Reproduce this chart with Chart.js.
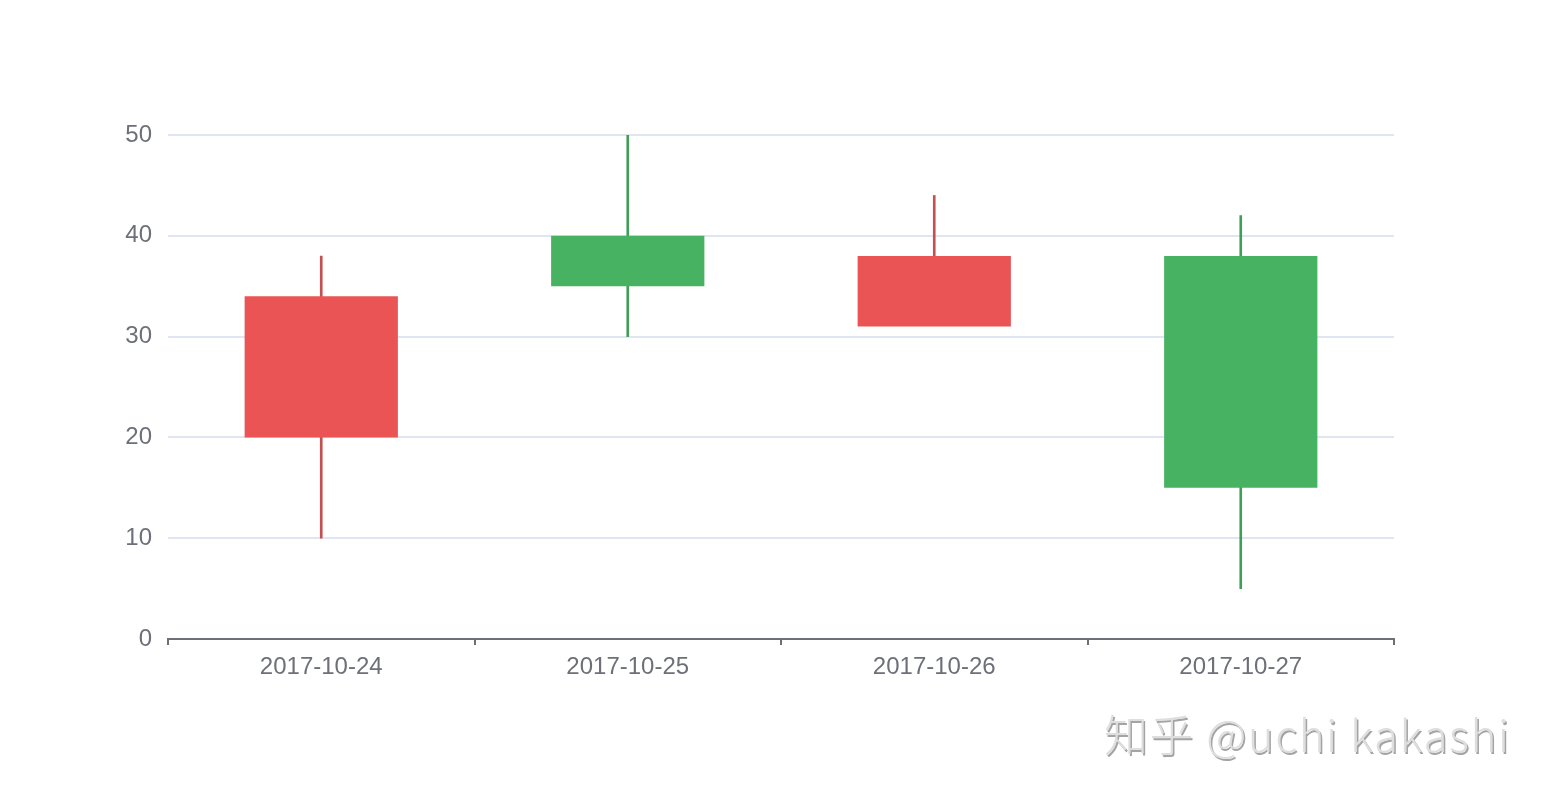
<!DOCTYPE html>
<html>
<head>
<meta charset="utf-8">
<script src="https://cdn.jsdelivr.net/npm/chart.js@4.4.0/dist/chart.umd.min.js"></script>
<style>
  html, body { margin: 0; padding: 0; background: #fff; }
  #wrap { position: relative; width: 1560px; height: 794px; }
  #mark {
    position: absolute; left: 1104px; top: 701px;
    font: 300 44px "Noto Sans CJK SC", "Liberation Sans", sans-serif;
    letter-spacing: 1.5px;
    color: #dedede; text-shadow: 1.5px 1.5px 0 #a4a4a4; white-space: nowrap;
  }
</style>
</head>
<body>
<div id="wrap">
  <canvas id="kChart" width="1560" height="794"></canvas>
  <div id="mark">知乎 @uchi kakashi</div>
</div>
<script>
const dates = ['2017-10-24', '2017-10-25', '2017-10-26', '2017-10-27'];
const openVals = [20, 40, 31, 38];
const closeVals = [34, 35, 38, 15];
const lowVals = [10, 30, 33, 5];
const highVals = [38, 50, 44, 42];
const yTicks = [0, 10, 20, 30, 40, 50];

const upColor = '#eb5454';
const downColor = '#47b262';
const upWick = '#c4504f';
const downWick = '#3f9f57';

const isUp = openVals.map((o, i) => closeVals[i] >= o);

const ctx = document.getElementById('kChart').getContext('2d');
const myChart = new Chart(ctx, {
    type: 'bar',
    data: {
        labels: dates,
        datasets: [{
            label: 'body',
            data: openVals.map((o, i) => [o, closeVals[i]]),
            backgroundColor: isUp.map(u => u ? upColor : downColor),
            borderWidth: 0,
            borderSkipped: false,
            categoryPercentage: 1,
            barPercentage: 0.5,
            grouped: false,
            order: 1
        }, {
            label: 'wick',
            data: lowVals.map((l, i) => [l, highVals[i]]),
            backgroundColor: isUp.map(u => u ? upWick : downWick),
            borderWidth: 0,
            borderSkipped: false,
            barThickness: 2,
            grouped: false,
            order: 2
        }]
    },
    options: {
        responsive: false,
        animation: false,
        layout: { padding: { left: 0, right: 166, top: 135, bottom: 0 } },
        plugins: { legend: { display: false }, tooltip: { enabled: false } },
        scales: {
            x: {
                offset: true,
                afterFit: s => { s.height = 155; },
                grid: {
                    offset: true,
                    drawOnChartArea: false,
                    drawTicks: true,
                    tickLength: 6,
                    color: '#6E7079',
                    lineWidth: 2
                },
                border: { display: true, color: '#6E7079', width: 2 },
                ticks: {
                    color: '#6E7079',
                    padding: 8,
                    font: { family: 'Liberation Sans', size: 24 }
                }
            },
            y: {
                min: 0,
                max: 50,
                afterFit: s => { s.width = 168; },
                afterBuildTicks: s => { s.ticks = yTicks.map(v => ({ value: v })); },
                grid: { color: '#E0E6F1', lineWidth: 2, drawTicks: false },
                border: { display: false },
                ticks: {
                    color: '#6E7079',
                    padding: 16,
                    font: { family: 'Liberation Sans', size: 24 }
                }
            }
        }
    }
});
</script>
</body>
</html>
